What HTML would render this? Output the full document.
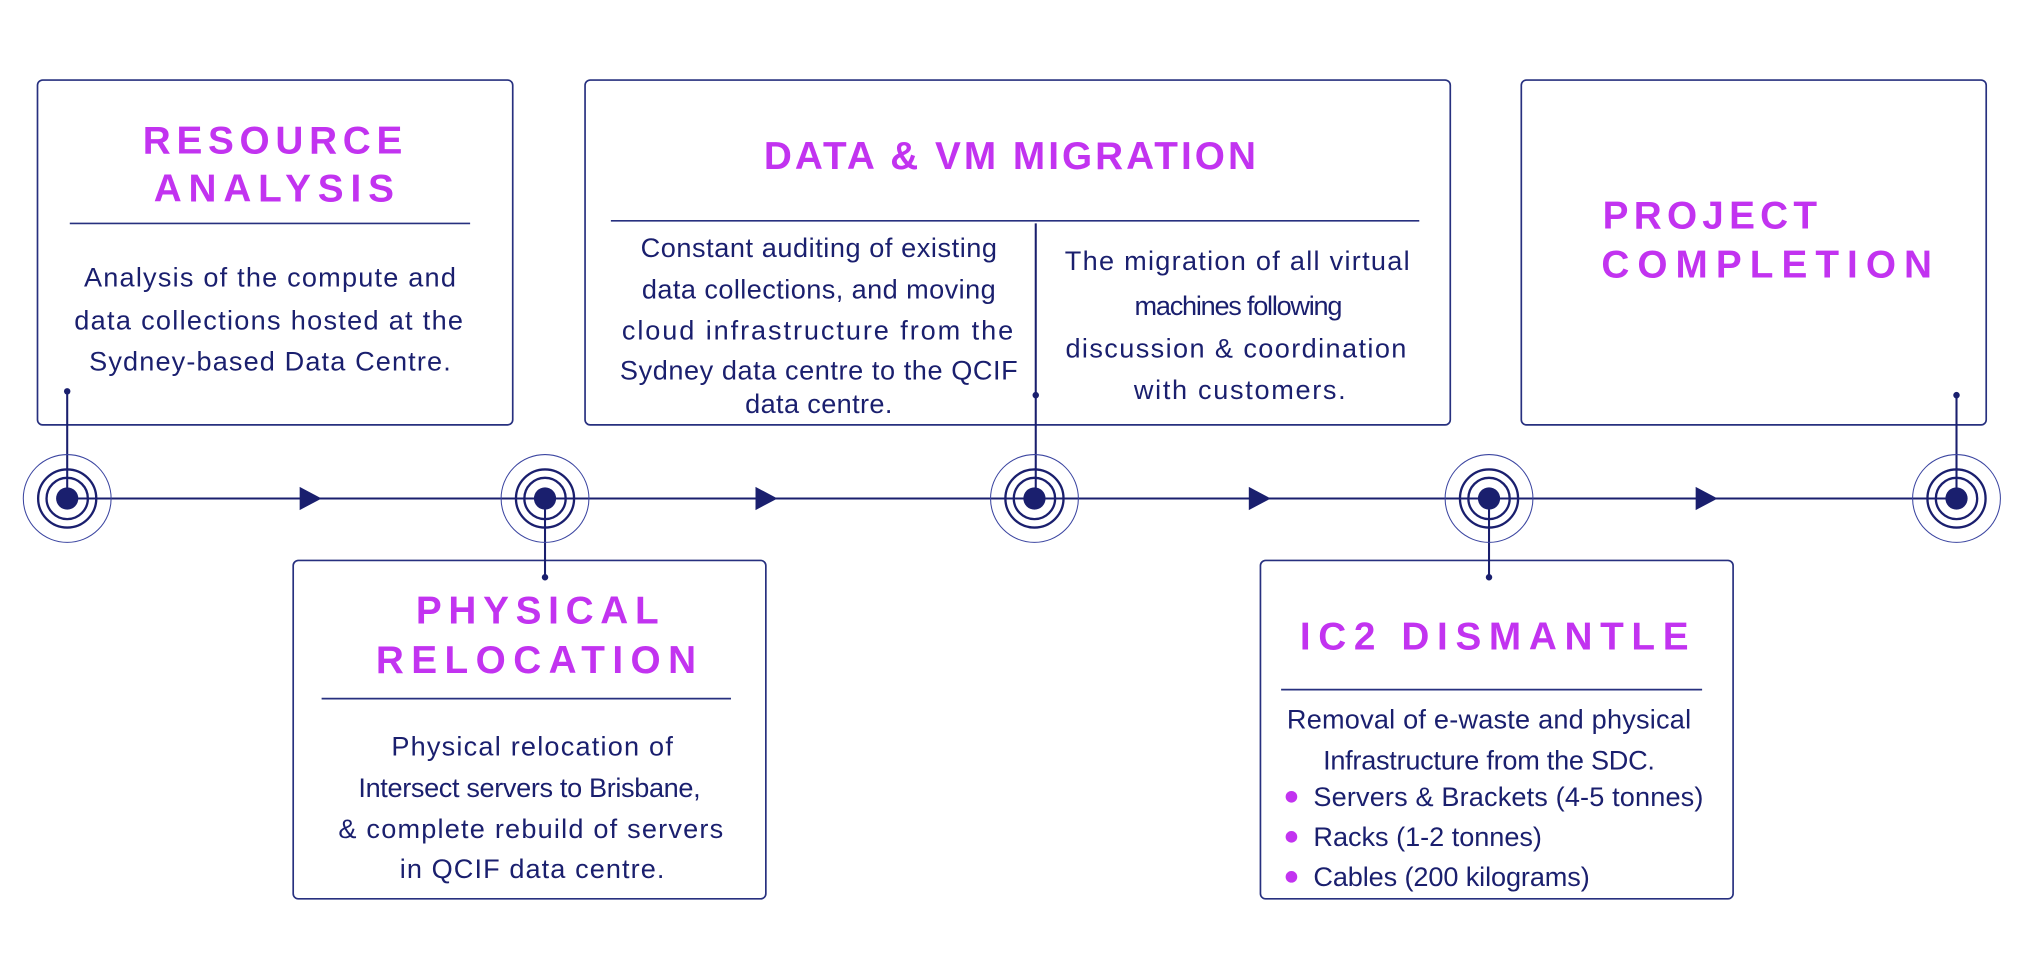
<!DOCTYPE html>
<html><head><meta charset="utf-8"><style>html,body{margin:0;padding:0;background:#fff}svg{display:block}</style></head>
<body>
<svg width="2025" height="975" viewBox="0 0 1568 755" xmlns="http://www.w3.org/2000/svg">
<g fill="none" stroke="#27307f" stroke-width="1.3">
<rect x="29" y="62" width="368" height="267" rx="4"/>
<rect x="453" y="62" width="670" height="267" rx="4"/>
<rect x="1178" y="62" width="360" height="267" rx="4"/>
<rect x="227" y="434" width="366" height="262" rx="4"/>
<rect x="976" y="434" width="366" height="262" rx="4"/>
<line x1="54" y1="173" x2="364" y2="173"/>
<line x1="473" y1="171" x2="1099" y2="171"/>
<line x1="249" y1="541" x2="566" y2="541"/>
<line x1="992" y1="534" x2="1318" y2="534"/>
</g>
<g stroke="#1a1f6e" stroke-width="1.6" fill="none">
<line x1="52" y1="386" x2="1515" y2="386"/>
<line x1="52" y1="303" x2="52" y2="386"/>
<line x1="422" y1="386" x2="422" y2="447"/>
<line x1="802" y1="173" x2="802" y2="386"/>
<line x1="1153" y1="386" x2="1153" y2="447"/>
<line x1="1515" y1="306" x2="1515" y2="386"/>
</g>
<g fill="#1a1f6e">
<circle cx="52" cy="303" r="2.5"/><circle cx="422" cy="447" r="2.5"/><circle cx="802" cy="306" r="2.5"/><circle cx="1153" cy="447" r="2.5"/><circle cx="1515" cy="306" r="2.5"/>
<polygon points="232,377 249,386 232,395"/><polygon points="585,377 602,386 585,395"/><polygon points="967,377 984,386 967,395"/><polygon points="1313,377 1330,386 1313,395"/>
</g>
<defs><g id="n"><circle r="34" fill="none" stroke="#3a44a0" stroke-width="0.8"/><circle r="22.5" fill="none" stroke="#1a1f6e" stroke-width="1.8"/><circle r="16" fill="none" stroke="#1a1f6e" stroke-width="1.8"/><circle r="8.6" fill="#1a1f6e"/></g></defs>
<use href="#n" x="52" y="386"/><use href="#n" x="422" y="386"/><use href="#n" x="801" y="386"/><use href="#n" x="1153" y="386"/><use href="#n" x="1515" y="386"/>
<g font-family="Liberation Sans, sans-serif" font-weight="bold" font-size="30" fill="#c233f0" text-anchor="middle" lengthAdjust="spacingAndGlyphs">
<text x="211" y="119" textLength="201">RESOURCE</text>
<text x="212" y="156" textLength="186">ANALYSIS</text>
<text x="782" y="131" textLength="381">DATA &amp; VM MIGRATION</text>
<text x="1324" y="177" textLength="166">PROJECT</text>
<text x="1368" y="215" textLength="256">COMPLETION</text>
<text x="416" y="483" textLength="188">PHYSICAL</text>
<text x="415" y="521" textLength="248">RELOCATION</text>
<text x="1157" y="503" textLength="301">IC2 DISMANTLE</text>
</g>
<g font-family="Liberation Sans, sans-serif" font-size="21" fill="#1a1f6e" text-anchor="middle" lengthAdjust="spacingAndGlyphs">
<text x="209" y="222" textLength="288">Analysis of the compute and</text>
<text x="208" y="255" textLength="301">data collections hosted at the</text>
<text x="209" y="287" textLength="280">Sydney-based Data Centre.</text>
<text x="412" y="585" textLength="218">Physical relocation of</text>
<text x="410" y="617" textLength="265">Intersect servers to Brisbane,</text>
<text x="411" y="649" textLength="298">&amp; complete rebuild of servers</text>
<text x="412" y="680" textLength="205">in QCIF data centre.</text>
<text x="634" y="199" textLength="276">Constant auditing of existing</text>
<text x="634" y="231" textLength="274">data collections, and moving</text>
<text x="633" y="263" textLength="303">cloud infrastructure from the</text>
<text x="634" y="294" textLength="308">Sydney data centre to the QCIF</text>
<text x="634" y="320" textLength="114">data centre.</text>
<text x="958" y="209" textLength="267">The migration of all virtual</text>
<text x="959" y="244" textLength="161">machines following</text>
<text x="957" y="277" textLength="264">discussion &amp; coordination</text>
<text x="960" y="309" textLength="164">with customers.</text>
<text x="1153" y="564" textLength="313">Removal of e-waste and physical</text>
<text x="1153" y="596" textLength="257">Infrastructure from the SDC.</text>
</g>
<g font-family="Liberation Sans, sans-serif" font-size="21" fill="#1a1f6e" lengthAdjust="spacingAndGlyphs">
<text x="1017" y="624" textLength="302">Servers &amp; Brackets (4-5 tonnes)</text>
<text x="1017" y="655" textLength="177">Racks (1-2 tonnes)</text>
<text x="1017" y="686" textLength="214">Cables (200 kilograms)</text>
</g>
<g fill="#c233f0"><circle cx="1000" cy="617" r="4.5"/><circle cx="1000" cy="648" r="4.5"/><circle cx="1000" cy="679" r="4.5"/></g>
</svg>
</body></html>
